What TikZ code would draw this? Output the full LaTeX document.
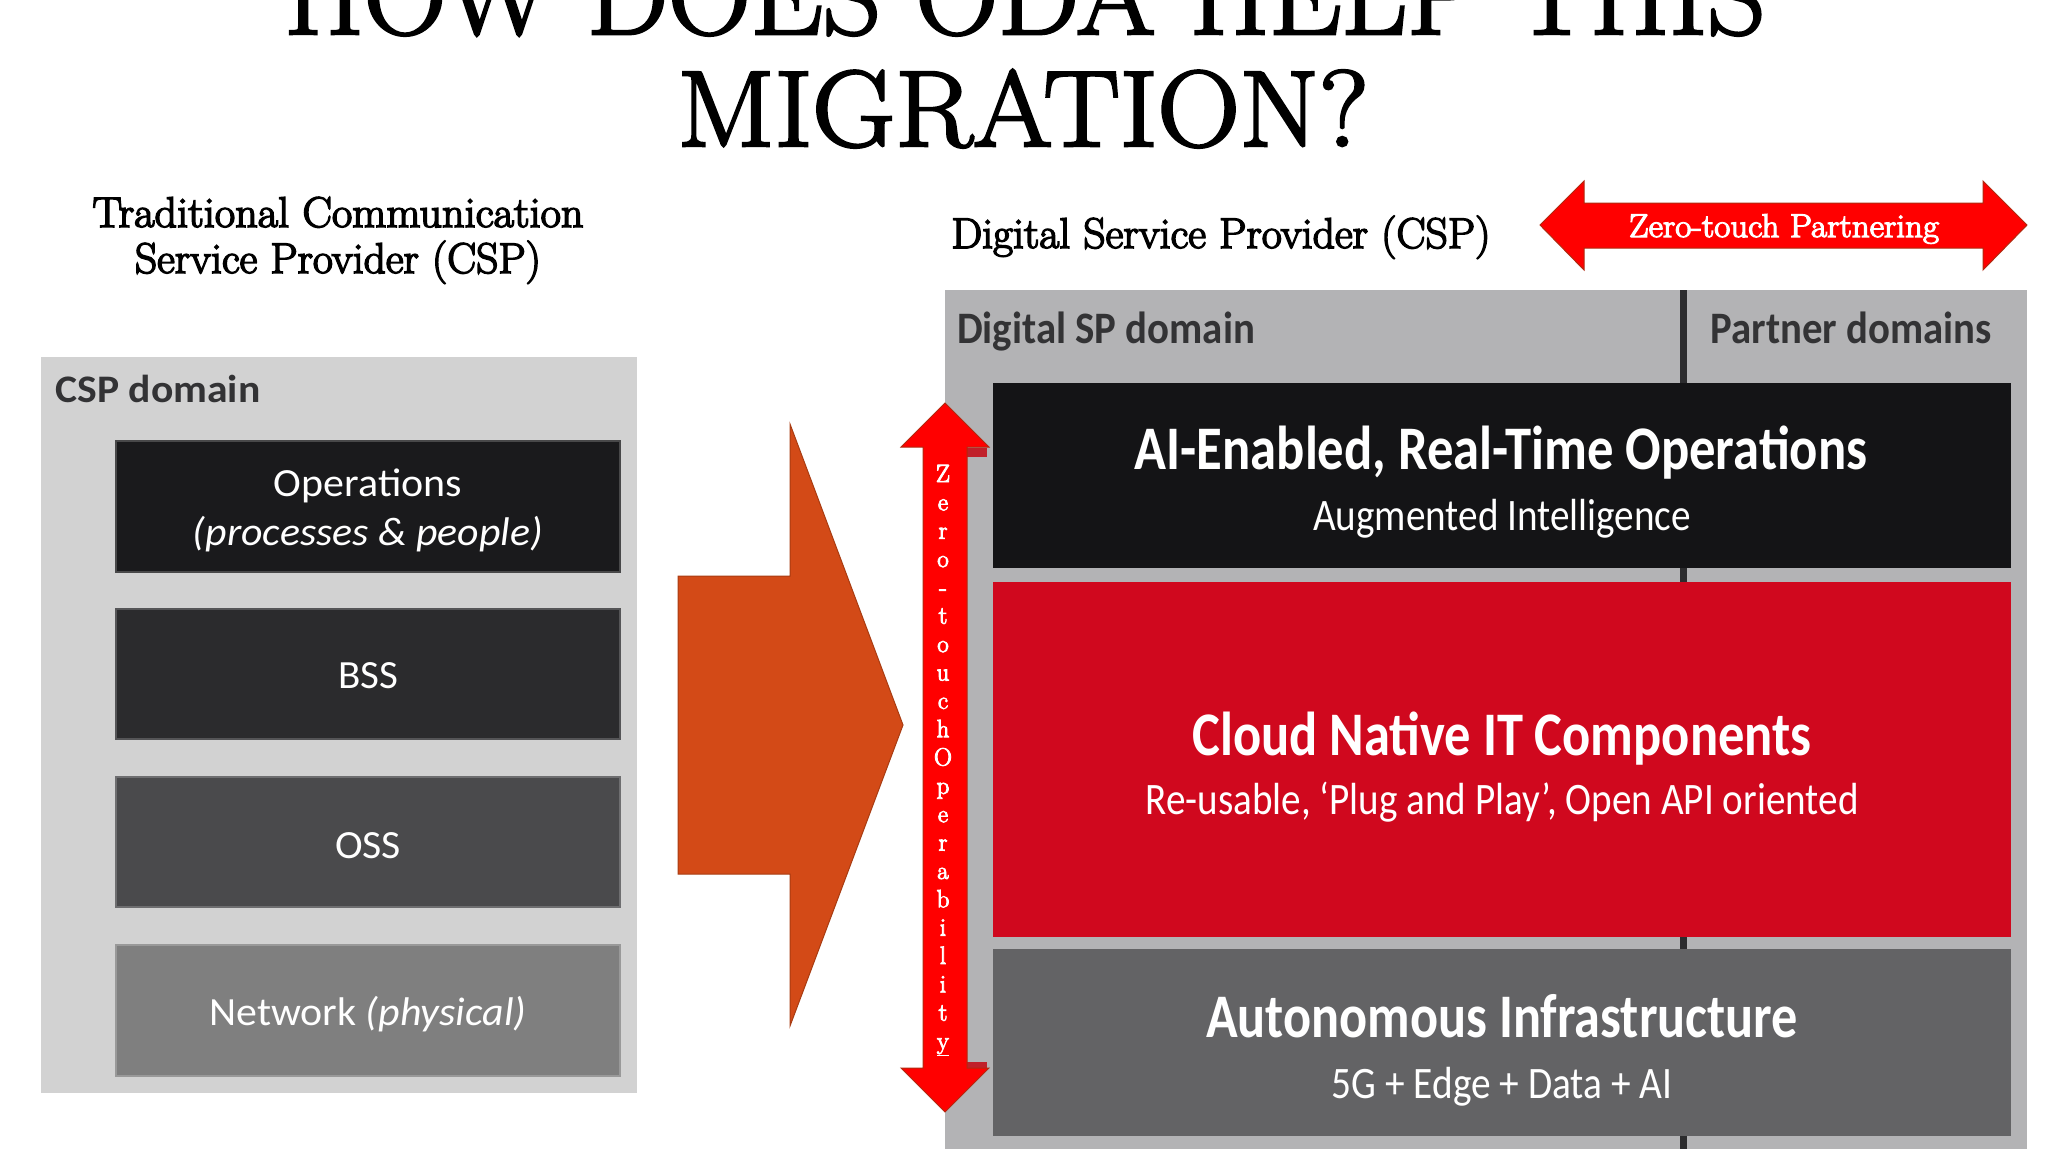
\documentclass[tikz,border=0pt]{standalone}
\usepackage{fontspec}
\usepackage{graphicx}
\newfontfamily\carl{Carlito}
\newfontfamily\srfA{Latin Modern Roman}[FakeBold=2.5]
\newfontfamily\srfB{Latin Modern Roman}[FakeBold=3.5]
\newcommand{\fitx}[2]{\resizebox{#1pt}{\height}{#2}}
\newcommand{\myfs}[1]{\fontsize{#1}{#1}\selectfont}
\definecolor{panelL}{HTML}{D2D2D2}
\definecolor{panelR}{HTML}{B3B3B5}
\definecolor{boxA}{HTML}{1A1A1C}
\definecolor{boxB}{HTML}{2B2B2D}
\definecolor{boxC}{HTML}{4A4A4C}
\definecolor{boxD}{HTML}{7F7F7F}
\definecolor{opsK}{HTML}{141416}
\definecolor{cloudR}{HTML}{D0081E}
\definecolor{infraG}{HTML}{636365}
\definecolor{bigA}{HTML}{D34A17}
\definecolor{bigE}{HTML}{A83C12}
\definecolor{redE}{HTML}{B02A10}
\definecolor{smudge}{HTML}{C0202A}
\definecolor{labelK}{HTML}{333335}
\tikzset{
  txt/.style={inner sep=0pt,outer sep=0pt,anchor=base,align=center},
  serifk/.style={txt,text=black},
  lab/.style={txt,text=labelK,font=\carl\bfseries},
  whit/.style={txt,text=white},
  layer/.style={draw=#1!80!white,line width=1.5pt,fill=#1},
  redarrow/.style={fill=red,draw=redE,line width=1pt,line join=miter},
}
\begin{document}
\begin{tikzpicture}[x=1pt,y=-1pt]
\useasboundingbox (0,0) rectangle (2048,1152);
\clip (0,0) rectangle (2048,1152);
\fill[white] (0,0) rectangle (2048,1152);
% title
\node[serifk] (t1) at (1025,34) {\fitx{1481}{\myfs{108}\srfA HOW DOES ODA HELP THIS}};
\node[serifk] (t2) at (1023,146) {\fitx{691}{\myfs{108}\srfA MIGRATION?}};
% headings
\node[serifk] (h1) at (338,227) {\fitx{491}{\myfs{43}\srfB Traditional Communication}};
\node[serifk] (h2) at (338,273) {\fitx{406}{\myfs{43}\srfB Service Provider (CSP)}};
\node[serifk] (h3) at (1221,248) {\fitx{539}{\myfs{43}\srfB Digital Service Provider (CSP)}};
% left panel
\fill[panelL] (41,357) rectangle (637,1093);
\node[lab] (csp) at (158,402) {\fitx{205}{\myfs{39}CSP domain}};
\draw[layer=boxA] (116,441) rectangle (620,572);
\draw[layer=boxB] (116,609) rectangle (620,739);
\draw[layer=boxC] (116,777) rectangle (620,907);
\draw[layer=boxD] (116,945) rectangle (620,1076);
\node[whit] (op1) at (368,496) {\fitx{188}{\myfs{40}\carl Operations}};
\node[whit] (op2) at (368,545) {\fitx{350}{\myfs{40}\carl\itshape (processes \& people)}};
\node[whit] (bss) at (368,688) {\fitx{60}{\myfs{40}\carl BSS}};
\node[whit] (oss) at (368,858) {\fitx{66}{\myfs{40}\carl OSS}};
\node[whit] (net) at (368,1025) {\fitx{317}{\myfs{40}\carl Network \itshape(physical)}};
% big arrow
\draw[fill=bigA,draw=bigE,line width=1pt] (678,576) -- (790,576) -- (790,424) -- (903,725) -- (790,1026) -- (790,874) -- (678,874) -- cycle;
% right panel
\fill[panelR] (945,290) rectangle (2027,1149);
\fill[opsK!85!panelR] (1680,290) rectangle (1687,1149);
\node[lab] (dsp) at (1106,343) {\fitx{298}{\myfs{45}Digital SP domain}};
\node[lab] (pd) at (1851,343) {\fitx{281}{\myfs{45}Partner domains}};
\fill[opsK] (993,383) rectangle (2011,568);
\fill[cloudR] (993,582) rectangle (2011,937);
\fill[infraG] (993,949) rectangle (2011,1136);
\node[whit] (ai) at (1501,469) {\fitx{733}{\myfs{62}\carl\bfseries AI-Enabled, Real-Time Operations}};
\node[whit] (aug) at (1502,530) {\fitx{378}{\myfs{45}\carl Augmented Intelligence}};
\node[whit] (cn) at (1502,755) {\fitx{619}{\myfs{62}\carl\bfseries Cloud Native IT Components}};
\node[whit] (re) at (1502,814) {\fitx{713}{\myfs{45}\carl Re-usable, ‘Plug and Play’, Open API oriented}};
\node[whit] (au) at (1502,1037) {\fitx{592}{\myfs{62}\carl\bfseries Autonomous Infrastructure}};
\node[whit] (fg) at (1502,1098) {\fitx{341}{\myfs{45}\carl 5G + Edge + Data + AI}};
% red smudges behind the vertical arrow
\fill[smudge] (960,448) rectangle (987,457);
\fill[smudge] (960,1062) rectangle (987,1068);
% vertical arrow
\draw[redarrow] (945,403) -- (989,447) -- (967,447) -- (967,1068) -- (989,1068) -- (945,1112) -- (901,1068) -- (923,1068) -- (923,447) -- (901,447) -- cycle;
% horizontal arrow
\draw[redarrow] (1540,225) -- (1584,181) -- (1584,203) -- (1983,203) -- (1983,181) -- (2027,225) -- (1983,270) -- (1983,248) -- (1584,248) -- (1584,270) -- cycle;
\node[whit] (zp) at (1784,237) {\fitx{310}{\myfs{33}\srfB Zero-touch Partnering}};
% stacked letters
\foreach \c/\y/\nm in {Z/0/a,e/1/b,r/2/c,o/3/d,-/4/e,t/5/f,o/6/g,u/7/h,c/8/i,h/9/j,O/10/k,p/11/l,e/12/m,r/13/n,a/14/o,b/15/p,i/16/q,l/17/r,i/18/s,t/19/t,{\underline{y}}/20/u}
  \node[whit] (z\nm) at (943,{482+28.35*\y}) {\myfs{25}\srfB\c};
\end{tikzpicture}
\end{document}
